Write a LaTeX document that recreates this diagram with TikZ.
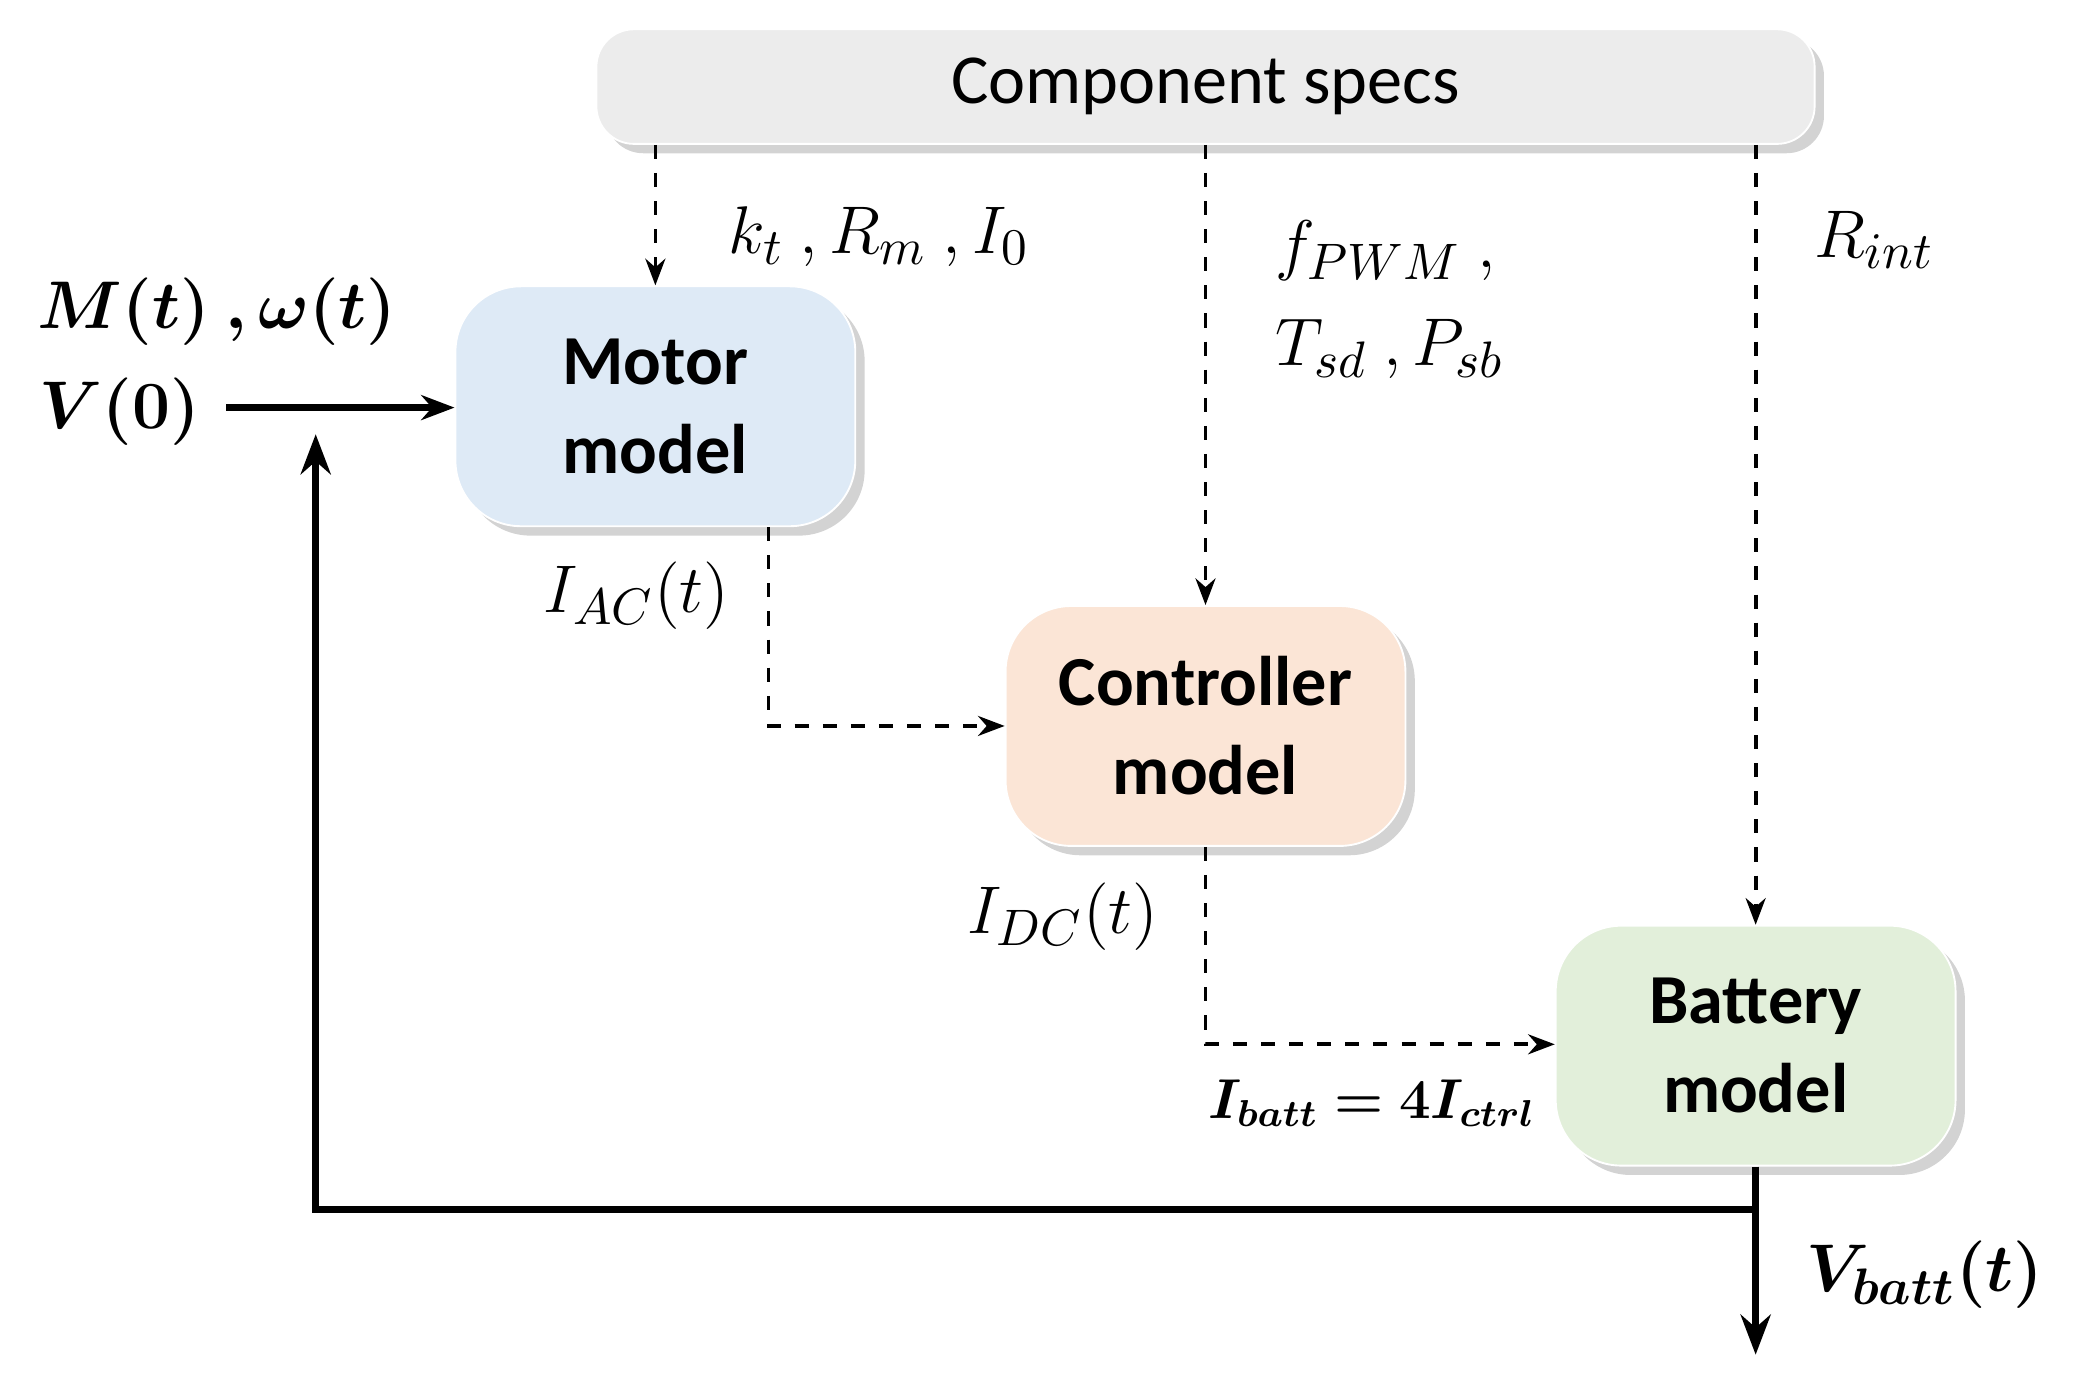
\documentclass[tikz,border=0pt]{standalone}
\usepackage{fontspec}
\usepackage{amsmath,bm}
\setmainfont{Carlito}
\usetikzlibrary{arrows.meta,shadows}
\definecolor{specgray}{RGB}{236,236,236}
\definecolor{motorblue}{RGB}{222,234,246}
\definecolor{ctrlorange}{RGB}{251,229,214}
\definecolor{battgreen}{RGB}{226,239,218}

\begin{document}
\begin{tikzpicture}[
    x=0.01cm, y=-0.01cm,
    block/.style={
        rectangle, rounded corners=14pt, draw=white, thin,
        minimum width=3cm, minimum height=1.8cm,
        align=center, font=\fontsize{15}{19}\selectfont\bfseries,
        drop shadow={opacity=0.35, shadow xshift=2pt, shadow yshift=-2pt}
    },
    lbl/.style={font=\fontsize{15}{19}\selectfont},
    dashedarrow/.style={-{Stealth[length=2mm]}, dashed, thick},
    solidarrow/.style={-{Stealth[length=3mm]}, line width=1.5pt}
]
\useasboundingbox (0,0) rectangle (1560,1037);

% Blocks
\node[block, fill=specgray, minimum width=9.14cm, minimum height=0.86cm, rounded corners=8pt,
      font=\fontsize{15}{19}\selectfont] (specs) at (905,65) {Component specs};
\node[block, fill=motorblue] (motor) at (492,305) {Motor\\model};
\node[block, fill=ctrlorange] (ctrl) at (905,545) {Controller\\model};
\node[block, fill=battgreen] (batt) at (1318,785) {Battery\\model};

% Parameter inputs
\draw[dashedarrow] (specs.south -| motor.north) -- (motor.north);
\draw[dashedarrow] (specs.south -| ctrl.north) -- (ctrl.north);
\draw[dashedarrow] (specs.south -| batt.north) -- (batt.north);
\node[lbl] (kt) at (660,178) {$k_t~,R_m~,I_0$};
\node[lbl, anchor=west] (fpwm) at (945,188) {$f_{PWM}~,$};
\node[lbl, anchor=west] (tsd) at (945,262) {$T_{sd}~,P_{sb}$};
\node[lbl] (rint) at (1407,180) {$R_{int}$};

% Input
\node[lbl] (mw) at (163,234) {$\bm{M(t)~,\omega(t)}$};
\node[lbl] (v0) at (90,309) {$\bm{V(0)}$};
\coordinate (inp) at (170,306);
\draw[solidarrow, -{Stealth[length=2.5mm]}] (inp) -- (inp -| motor.west);

% Currents
\coordinate (m1) at (577,545);
\draw[dashedarrow] (motor.south -| m1) -- (m1) -- (ctrl.west);
\node[lbl] (iac) at (478,447) {$I_{AC}(t)$};
\coordinate (c1) at (905,784);
\draw[dashedarrow] (ctrl.south) -- (c1) -- (c1 -| batt.west);
\node[lbl] (idc) at (798,688) {$I_{DC}(t)$};
\node[font=\fontsize{12}{15}\selectfont] (ibatt) at (1030,828) {$\bm{I_{batt}=4I_{ctrl}}$};

% Output and feedback
\coordinate (out) at (1318,1017);
\coordinate (fb) at (1318,908);
\coordinate (fbl) at (237,908);
\coordinate (fbt) at (237,326);
\draw[solidarrow] (batt.south) -- (out);
\draw[solidarrow] (fb) -- (fbl) -- (fbt);
\node[lbl] (vbatt) at (1445,957) {$\bm{V_{batt}(t)}$};
\end{tikzpicture}
\end{document}
